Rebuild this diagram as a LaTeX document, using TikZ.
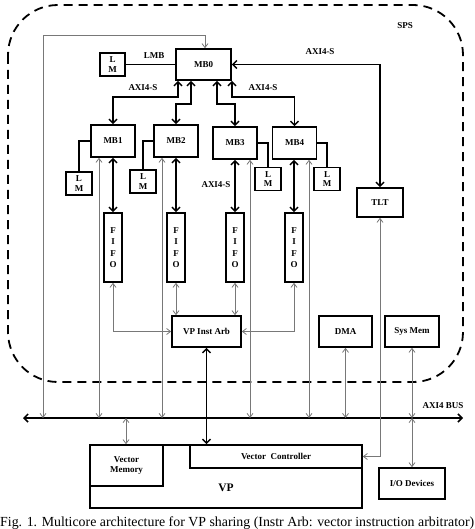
\documentclass[tikz,border=0pt]{standalone}
\usepackage{fontspec}
\setmainfont{Liberation Serif}
\usetikzlibrary{arrows.meta}
\definecolor{thin}{RGB}{120,120,120}
\tikzset{
  box/.style={draw=black, line width=1.6pt, inner sep=0pt, font=\bfseries\fontsize{9}{9.5}\selectfont, align=center},
  lbl/.style={font=\bfseries\fontsize{9}{9.5}\selectfont, inner sep=0pt},
  thick2/.style={line width=1.5pt, {Straight Barb[length=4pt,width=8pt,line width=1.5pt]}-{Straight Barb[length=4pt,width=8pt,line width=1.5pt]}},
  thickline/.style={line width=1.5pt},
  thin2/.style={draw=thin, line width=0.8pt, {Straight Barb[length=4pt,width=6pt]}-{Straight Barb[length=4pt,width=6pt]}},
}
\begin{document}
\begin{tikzpicture}[x=1pt,y=-1pt]
\useasboundingbox (0,0) rectangle (474,529);
% SPS frame
\draw[line width=1.8pt, dash pattern=on 9pt off 6pt, rounded corners=50pt] (8,5) rectangle (463,382);
\node[lbl] (sps) at (405,26) {SPS};
% boxes
\node[box, minimum width=55pt, minimum height=31pt] (mb0) at (203.5,64.5) {MB0};
\node[box, minimum width=25pt, minimum height=23pt] (lm0) at (112.5,64.5) {L\\M};
\node[box, minimum width=44pt, minimum height=32pt] (mb1) at (113,141) {MB1};
\node[box, minimum width=44pt, minimum height=32pt] (mb2) at (176,141) {MB2};
\node[box, minimum width=44pt, minimum height=32pt] (mb3) at (235,143) {MB3};
\node[box, minimum width=44pt, minimum height=32pt] (mb4) at (294.5,143) {MB4};
\node[box, minimum width=26pt, minimum height=23pt] (lm1) at (79,183.5) {L\\M};
\node[box, minimum width=26pt, minimum height=23pt] (lm2) at (143,181.5) {L\\M};
\node[box, minimum width=26pt, minimum height=23pt] (lm3) at (268,179) {L\\M};
\node[box, minimum width=26pt, minimum height=23pt] (lm4) at (327,179) {L\\M};
\foreach \i/\x in {1/113,2/176,3/235,4/294}{
  \node[box, minimum width=18pt, minimum height=69pt, font=\bfseries\fontsize{9}{11.5}\selectfont] (fifo\i) at (\x,247.5) {F\\I\\F\\O};
}
\node[box, minimum width=69pt, minimum height=31pt] (arb) at (206.5,331.5) {VP Inst Arb};
\node[box, minimum width=53pt, minimum height=31pt] (dma) at (345.5,331.5) {DMA};
\node[box, minimum width=54pt, minimum height=31pt] (sysmem) at (412,331.5) {Sys Mem};
\node[box, minimum width=46pt, minimum height=29pt] (tlt) at (380,202.5) {TLT};
\node[box, minimum width=66pt, minimum height=31pt] (io) at (412,483.5) {I/O Devices};
\node[box, minimum width=272pt, minimum height=63pt] (vp) at (226,476.5) {};
\node[lbl, font=\bfseries\fontsize{11.5}{12}\selectfont] (vplbl) at (226,488) {VP};
\node[box, minimum width=73pt, minimum height=41pt] (vecmem) at (126.5,465.5) {Vector\\Memory};
\node[box, minimum width=172pt, minimum height=23pt] (vecctrl) at (276,456.5) {Vector\ \ Controller};
% labels
\node[lbl] (lmb) at (154,56) {LMB};
\node[lbl] (axa) at (143,88) {AXI4-S};
\node[lbl] (axb) at (263,88) {AXI4-S};
\node[lbl] (axc) at (320,52) {AXI4-S};
\node[lbl] (axd) at (216,185) {AXI4-S};
\node[lbl] (bus) at (443,406) {AXI4 BUS};
% bus
\coordinate (busL) at (23,418);
\coordinate (busR) at (463,418);
\draw[thick2, line width=2pt] (busL) -- (busR);
% top gray loop
\coordinate (tlc) at (43,35);
\draw[thin2] (mb0.north -| 205,0) -- (205,35) -- (tlc) -- (busL -| tlc);
% MB gray lines
\foreach \n/\x in {mb1/99,mb2/162,mb3/250,mb4/309}{
  \draw[thin2] (\n.south -| \x,0) -- (busL -| \x,0);
}
\draw[thin2] (dma.south) -- (busL -| dma.south);
\draw[thin2] (sysmem.south) -- (busL -| sysmem.south);
\draw[thin2] (busL -| io.north) -- (io.north);
\draw[thin2] (busL -| 126,0) -- (vecmem.north -| 126,0);
% arb to vector controller
\draw[thick2] (arb.south) -- (vecctrl.north -| arb.south);
% TLT
\draw[thick2] (mb0.east) -| (tlt.north);
\draw[thin2] (tlt.south) |- (vecctrl.east);
% MB0 to MBs
\draw[thick2] (mb0.south -| 178,0) -- (178,97) -| (mb1.north);
\draw[thick2] (mb0.south -| 191,0) -- (191,104) -| (mb2.north);
\draw[thick2] (mb0.south -| 217,0) -- (217,104) -| (mb3.north);
\draw[thick2] (mb0.south -| 232,0) -- (232,97) -| (mb4.north);
% LM links
\draw[thickline] (lm0.east) -- (mb0.west);
\draw[thickline] (mb1.west) -| (lm1.north);
\draw[thickline] (mb2.west) -| (lm2.north);
\draw[thickline] (mb3.east) -| (lm3.north);
\draw[thickline] (mb4.east) -| (lm4.north);
% MB to FIFO
\foreach \i in {1,2,3,4}{
  \draw[thick2] (mb\i.south -| fifo\i.north) -- (fifo\i.north);
}
% FIFO to arb
\draw[thin2] (fifo1.south) |- (arb.west);
\draw[thin2] (fifo2.south) -- (arb.north -| fifo2.south);
\draw[thin2] (fifo3.south) -- (arb.north -| fifo3.south);
\draw[thin2] (fifo4.south) |- (arb.east);
% caption
\node[inner sep=0pt, anchor=west] (cap) at (0,523) {\resizebox{474pt}{!}{\fontsize{10}{11}\selectfont Fig. 1. Multicore architecture for VP sharing (Instr Arb: vector instruction arbitrator)}};
\end{tikzpicture}
\end{document}
